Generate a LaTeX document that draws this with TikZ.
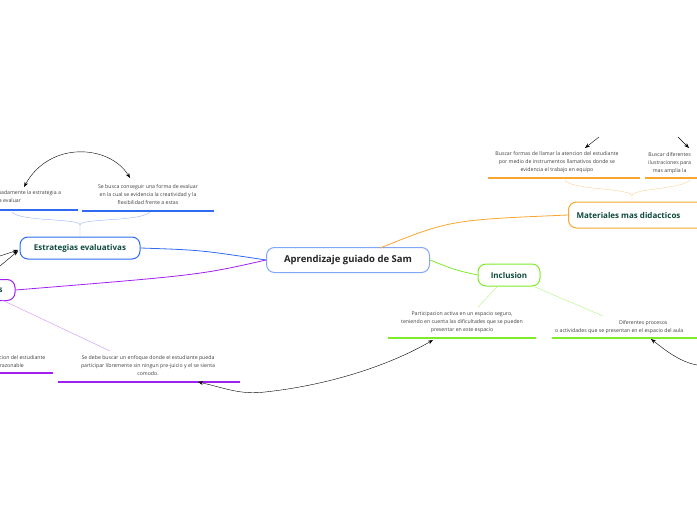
\documentclass[tikz,border=0pt]{standalone}
\usepackage{fontspec}
\setmainfont{Open Sans}
\usetikzlibrary{arrows.meta}
\definecolor{bl}{HTML}{2F6BF0}
\definecolor{pu}{HTML}{A020F0}
\definecolor{orr}{HTML}{F7A630}
\definecolor{gr}{HTML}{7EEB2A}
\definecolor{tx}{HTML}{0E4A3C}
\tikzset{x=1pt,y=-1pt,
 topic/.style={draw=#1,line width=1pt,rounded corners=8pt,fill=white,font=\bfseries\fontsize{8}{9}\selectfont,text=tx,inner sep=0pt},
 sub/.style={font=\fontsize{5.2}{8}\selectfont,align=center,text=black!75,inner sep=0pt},
 ul/.style={draw=#1,line width=1.4pt},
 arr/.style={-{Stealth[length=5pt]},black,thin}}
\begin{document}
\begin{tikzpicture}
\useasboundingbox (0,0) rectangle (697,520);
\clip (0,0) rectangle (697,520);
% central
\node[topic=bl!60,minimum width=163pt,minimum height=25pt,font=\bfseries\fontsize{9.5}{11}\selectfont,text=black!85] (c) at (348,260) {Aprendizaje guiado de Sam};
% estrategias
\node[topic=bl,minimum width=120pt,minimum height=22pt] (e) at (80,248) {Estrategias evaluativas};
\draw[bl,thick] (c.west) .. controls (200,250) .. (e.east);
\node[sub] (e1) at (-3,197) {Se debe implementar adecuadamente la estrategia a\\utilizar para evaluar};
\node[sub] (e2) at (148,195) {Se busca conseguir una forma de evaluar\\en la cual se evidencia la creatividad y la\\flexibilidad frente a estas};
\draw[ul=bl] (-20,210) -- (78,210);
\draw[ul=bl] (82,211) -- (214,211);
\coordinate (eb) at (80,225);
\draw[bl!50] (e.north) -- (eb) .. controls (80,218) and (20,222) .. (12,212);
\draw[bl!50] (eb) .. controls (80,218) and (140,222) .. (150,212);
\draw[{Stealth[length=5pt]}-{Stealth[length=5pt]},black,thin] (24,187) .. controls (50,140) and (110,145) .. (130,178);
\coordinate (l1) at (0,256); \coordinate (l2) at (0,266);
\draw[arr] (l1) -- (18,250);
\draw[arr] (l2) -- (18,251);
% purple
\node[topic=pu,minimum width=60pt,minimum height=21pt] (p) at (-15,290) {Procesos};
\draw[pu,thick] (c.west) .. controls (200,275) .. (p.east);
\coordinate (pp) at (110,351);
\draw[pu!50] (2,300) -- (pp);
\node[sub] (p1) at (-5,362) {Considerar la participacion del estudiante\\en un tiempo razonable};
\node[sub] (p2) at (148,366) {Se debe buscar un enfoque donde el estudiante pueda\\participar libremente sin ningun pre-juicio y el se sienta\\comodo.};
\draw[ul=pu] (-40,373) -- (53,373);
\draw[ul=pu] (58,382) -- (240,382);
% materiales
\node[topic=orr,minimum width=150pt,minimum height=26pt,anchor=west] (m) at (568,215) {Materiales mas didacticos\hspace*{30pt}};
\draw[orr,thick] (380,248) .. controls (450,220) .. (m.west);
\node[sub] (m1) at (557,162) {Buscar formas de llamar la atencion del estudiante\\por medio de instrumentos llamativos donde se\\evidencia el trabajo en equipo};
\node[sub,anchor=north west] (m2) at (648,152) {Buscar diferentes\\ilustraciones para\\mas amplia la};
\draw[ul=orr] (488,178) -- (640,178);
\draw[ul=orr] (645,178) -- (720,178);
\coordinate (mb) at (632,196);
\draw[orr!50] (632,202) -- (mb) .. controls (632,188) and (570,190) .. (565,180);
\draw[orr!50] (mb) .. controls (632,188) and (680,190) .. (690,180);
\coordinate (a1) at (599,137); \coordinate (a2) at (678,137);
\draw[arr] (a1) -- (585,148);
\draw[arr] (a2) -- (689,148);
% inclusion
\node[topic=gr,minimum width=62pt,minimum height=22pt] (i) at (509,275) {Inclusion};
\draw[gr,thick] (c.east) .. controls (455,270) .. (i.west);
\node[sub] (i1) at (462,322) {Participacion activa en un espacio seguro,\\teniendo en cuenta las dificultades que se pueden\\presentar en este espacio};
\node[sub,anchor=west] (i2) at (555,327) {\hspace*{48pt}Diferentes procesos\\o actividades que se presentan en el espacio del aula};
\draw[ul=gr] (388,338) -- (536,338);
\draw[ul=gr] (552,338) -- (720,338);
\draw[gr!60] (497,287) -- (478,307);
\draw[gr!60] (535,287) -- (603,316);
% black curves
\draw[{Stealth[length=5pt]}-{Stealth[length=5pt]},black,thin] (198,382) .. controls (225,388) and (240,395) .. (265,392) .. controls (330,385) and (390,365) .. (433,340);
\coordinate (r1) at (697,365);
\draw[arr] (r1) .. controls (680,362) and (665,350) .. (651,339);
\end{tikzpicture}
\end{document}
